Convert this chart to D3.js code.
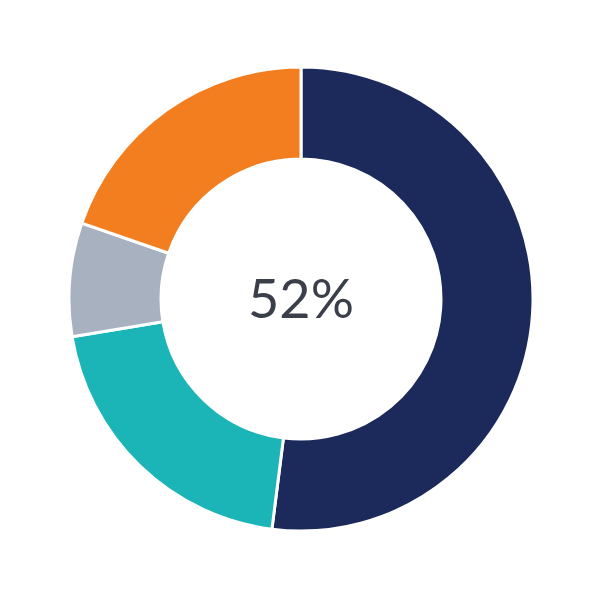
<!DOCTYPE html>
<html>
<head>
<meta charset="utf-8">
<script src="https://cdn.jsdelivr.net/npm/d3@7"></script>
<style>
  html, body { margin: 0; padding: 0; background: #fff; }
</style>
</head>
<body>
<div id="chart"></div>
<script>
const categories = ["A", "B", "C", "D"];
const values = [52, 20.4, 7.9, 19.7];
const colors = ["#1b2a5b", "#1bb4b7", "#a7b1c0", "#f37e20"];
const centerLabel = "52%";

const width = 600,
  height = 600;
const outer = 232,
  inner = 140;

const svg = d3
  .select("#chart")
  .append("svg")
  .attr("width", width)
  .attr("height", height);

const g = svg.append("g").attr("transform", `translate(301,299)`);

const pie = d3.pie().sort(null).value((d) => d.value);
const arc = d3.arc().innerRadius(inner).outerRadius(outer);

const data = categories.map((c, i) => ({ name: c, value: values[i], color: colors[i] }));

g.selectAll("path")
  .data(pie(data))
  .enter()
  .append("path")
  .attr("d", arc)
  .attr("fill", (d) => d.data.color)
  .attr("stroke", "#fff")
  .attr("stroke-width", 3);

g.append("text")
  .attr("text-anchor", "middle")
  .attr("dy", "0.35em")
  .style("font-family", "Lato, 'Open Sans', sans-serif")
  .style("font-weight", 400)
  .style("font-size", "54px")
  .style("fill", "#3b3f4a")
  .text(centerLabel);
</script>
</body>
</html>
